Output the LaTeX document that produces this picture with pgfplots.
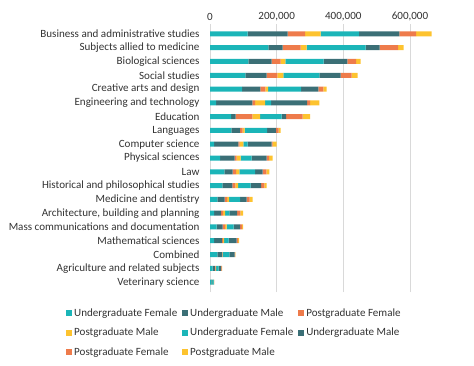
\documentclass[border=0pt]{standalone}
\usepackage{fontspec}
\setmainfont{Carlito}
\usepackage{pgfplots}
\usepackage{pgfplotstable}
\pgfplotsset{compat=1.18}
\definecolor{cUF}{HTML}{1BB5B8}
\definecolor{cUM}{HTML}{3B6F76}
\definecolor{cPF}{HTML}{EE7B4B}
\definecolor{cPM}{HTML}{FDC32F}
\definecolor{txt}{HTML}{333333}
\definecolor{grd}{HTML}{D9D9D9}
\pgfplotstableread{
y UFa UMa PFa PMa UFb UMb PFb PMb
0 113000 120000 52000 47000 115000 121000 50000 47000
1 175000 43000 54000 18000 177000 42000 55000 17000
2 115000 70000 27000 14000 115000 71000 26000 14000
3 106000 64000 32000 18000 108000 64000 33000 18000
4 96000 55000 15000 8000 99000 52000 15000 10000
5 18000 109000 8000 30000 18000 108000 9000 28000
6 63000 14000 50000 23000 65000 13000 50000 22000
7 64000 26000 8000 6000 67000 27000 8000 6000
8 12000 73000 4000 11000 13000 72000 3000 12000
9 30000 44000 6000 12000 33000 45000 7000 11000
10 43000 25000 10000 10000 47000 23000 11000 9000
11 37000 30000 9000 8000 38000 31000 10000 7000
12 22000 22000 7000 6000 33000 20000 9000 9000
13 12000 21000 6000 6000 13000 23000 10000 8000
14 20000 18000 7000 5000 21000 19000 6000 3000
15 12000 24000 3000 3000 14000 24000 4000 3000
16 22000 14000 1000 1000 20000 16000 1000 1000
17 8000 7000 2000 1000 8000 7000 2000 1000
18 4500 1000 500 200 4500 1000 500 300
}\data
\begin{document}
\begin{tikzpicture}
\path[use as bounding box] (0,0) rectangle (474bp,366bp);
\begin{axis}[
  at={(210bp,77bp)}, anchor=south west,
  scale only axis, width=255bp, height=262bp,
  xbar stacked, bar width=5bp,
  xmin=0, xmax=765000,
  ymin=-0.5, ymax=18.5, y dir=reverse,
  xtick={0,200000,400000,600000},
  xticklabels={0,{200,000},{400,000},{600,000}},
  scaled x ticks=false,
  xticklabel pos=right,
  ticklabel style={font=\fontsize{11.1}{13}\selectfont, text=txt},
  ytick={0,...,18},
  yticklabels={Business and administrative studies,Subjects allied to medicine,Biological sciences,Social studies,Creative arts and design,Engineering and technology,Education,Languages,Computer science,Physical sciences,Law,Historical and philosophical studies,Medicine and dentistry,{Architecture, building and planning},Mass communications and documentation,Mathematical sciences,Combined,Agriculture and related subjects,Veterinary science},
  ytick style={draw=none},
  yticklabel style={xshift=-4bp},
  x tick style={draw=grd, line width=0.75pt},
  major tick length=3bp, tick align=outside,
  xmajorgrids, grid style={draw=grd, line width=0.75pt},
  axis line style={draw=none},
  legend columns=3,
  legend cell align=left,
  legend style={at={(-0.5647,-0.066)}, anchor=north west, draw=none, fill=none,
    font=\fontsize{11.1}{13}\selectfont, text=txt, inner sep=0pt,
    /tikz/every even column/.append style={column sep=3bp},
    row sep=6.5bp},
  legend image code/.code={\fill[#1] (0bp,-3bp) rectangle (6bp,3bp);},
]
\addplot[fill=cUF, draw=none] table[x=UFa, y=y] {\data};
\addplot[fill=cUM, draw=none] table[x=UMa, y=y] {\data};
\addplot[fill=cPF, draw=none] table[x=PFa, y=y] {\data};
\addplot[fill=cPM, draw=none] table[x=PMa, y=y] {\data};
\addplot[fill=cUF, draw=none] table[x=UFb, y=y] {\data};
\addplot[fill=cUM, draw=none] table[x=UMb, y=y] {\data};
\addplot[fill=cPF, draw=none] table[x=PFb, y=y] {\data};
\addplot[fill=cPM, draw=none] table[x=PMb, y=y] {\data};
\legend{Undergraduate Female,Undergraduate Male,Postgraduate Female,Postgraduate Male,Undergraduate Female,Undergraduate Male,Postgraduate Female,Postgraduate Male}
\end{axis}
\end{tikzpicture}
\end{document}
